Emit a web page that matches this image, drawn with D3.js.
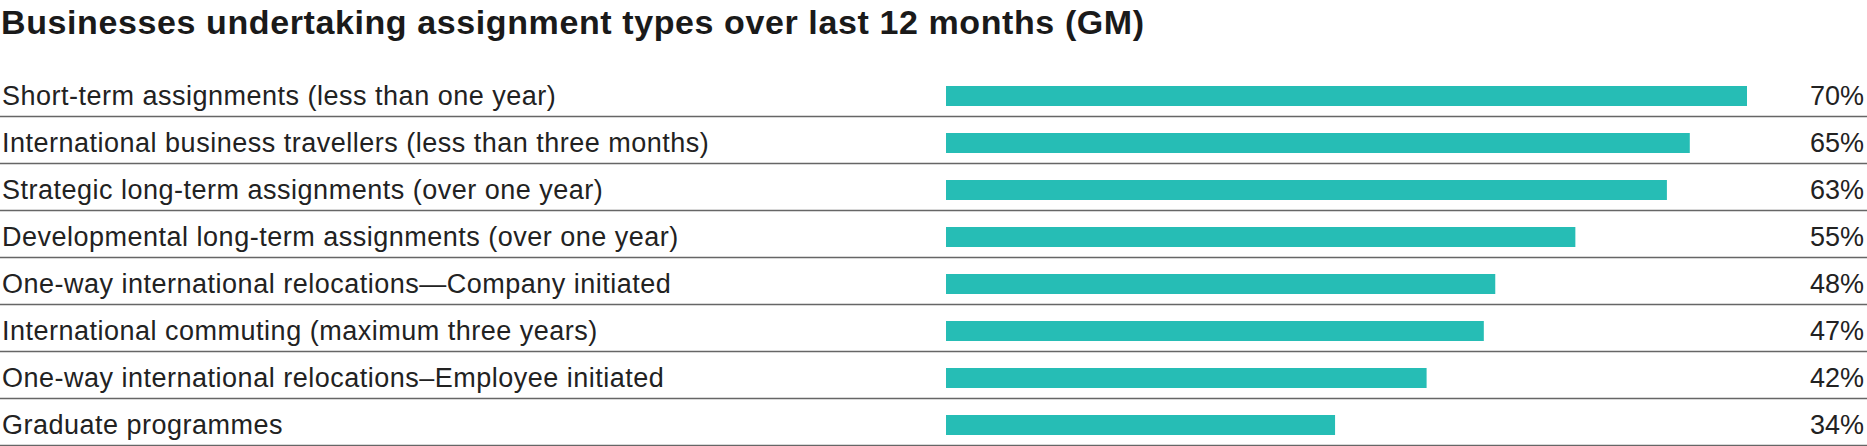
<!DOCTYPE html>
<html><head><meta charset="utf-8">
<script src="https://cdn.jsdelivr.net/npm/d3@7"></script>
<style>body{margin:0;background:#fff}svg{display:block;font-family:"Liberation Sans",Arial,sans-serif}</style>
</head><body><svg width="1867" height="446"></svg>
<script>
const categories = [
  "Short-term assignments (less than one year)",
  "International business travellers (less than three months)",
  "Strategic long-term assignments (over one year)",
  "Developmental long-term assignments (over one year)",
  "One-way international relocations\u2014Company initiated",
  "International commuting (maximum three years)",
  "One-way international relocations\u2013Employee initiated",
  "Graduate programmes"
];
const values = [70, 65, 63, 55, 48, 47, 42, 34];

const svg = d3.select("svg");

svg.append("text").attr("x", 1).attr("y", 34)
  .attr("font-size", 34).attr("font-weight", "bold").attr("fill", "#1a1a1a")
  .attr("letter-spacing", 0.6)
  .text("Businesses undertaking assignment types over last 12 months (GM)");

const y = d3.scaleBand().domain(categories).range([70, 446]).paddingInner(0);
const x = d3.scaleLinear().domain([0, 70]).range([946, 1747]);

const rows = svg.selectAll("g.row").data(categories).enter().append("g")
  .attr("class", "row").attr("transform", d => `translate(0,${y(d)})`);

rows.append("text").attr("x", 2).attr("y", 26).attr("dy", "0.35em")
  .attr("font-size", 27).attr("letter-spacing", 0.5).attr("fill", "#222").text(d => d);

rows.append("rect").attr("x", x(0)).attr("y", 16).attr("height", 20)
  .attr("width", (d, i) => x(values[i]) - x(0)).attr("fill", "#26bdb5");

rows.append("text").attr("x", 1864).attr("y", 26).attr("dy", "0.35em")
  .attr("text-anchor", "end").attr("font-size", 27).attr("fill", "#222")
  .text((d, i) => values[i] + "%");

rows.append("line").attr("x1", 0).attr("x2", 1867)
  .attr("y1", y.bandwidth() - 0.5).attr("y2", y.bandwidth() - 0.5)
  .attr("stroke", "#666").attr("stroke-width", 1.5);
</script></body></html>
